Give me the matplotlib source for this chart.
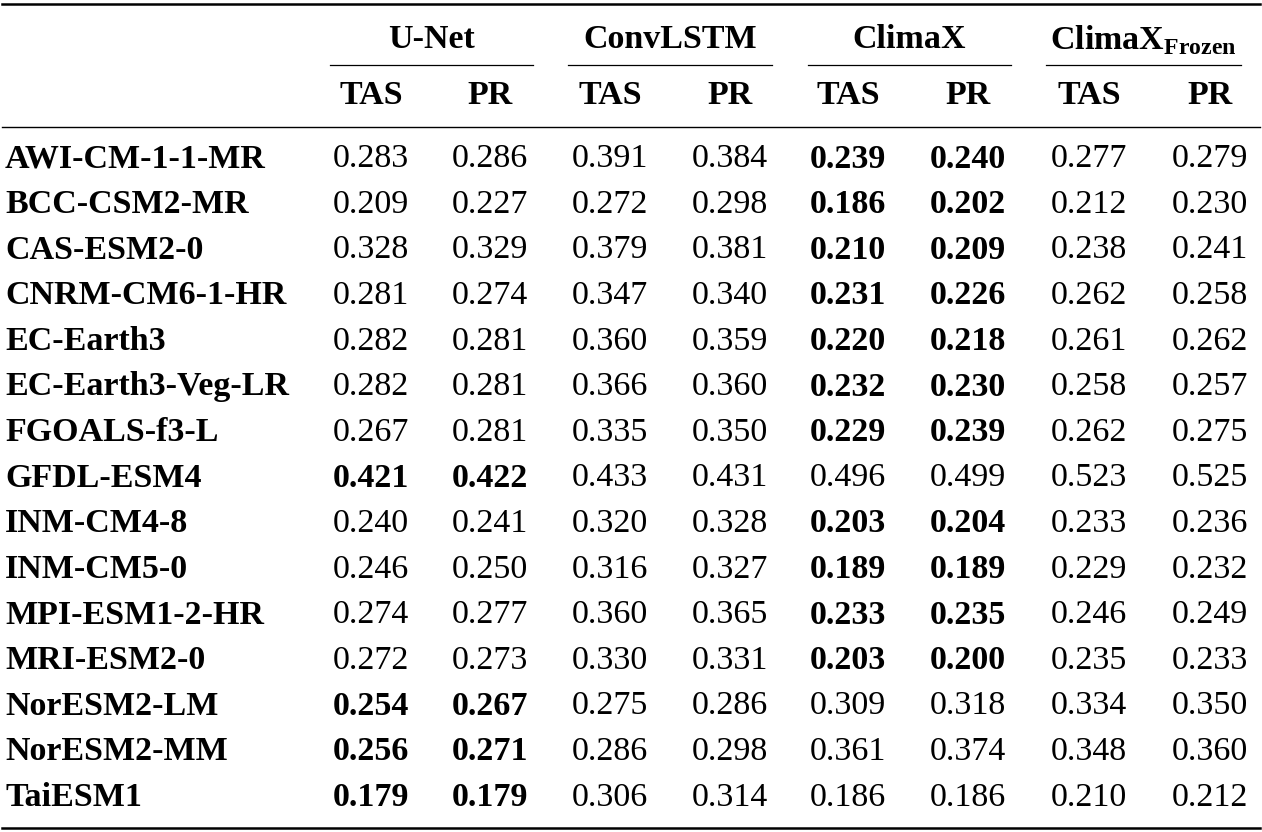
import matplotlib
matplotlib.use("Agg")
import matplotlib.pyplot as plt

models = ["AWI-CM-1-1-MR","BCC-CSM2-MR","CAS-ESM2-0","CNRM-CM6-1-HR","EC-Earth3",
          "EC-Earth3-Veg-LR","FGOALS-f3-L","GFDL-ESM4","INM-CM4-8","INM-CM5-0",
          "MPI-ESM1-2-HR","MRI-ESM2-0","NorESM2-LM","NorESM2-MM","TaiESM1"]
unet_tas = [0.283,0.209,0.328,0.281,0.282,0.282,0.267,0.421,0.240,0.246,0.274,0.272,0.254,0.256,0.179]
unet_pr  = [0.286,0.227,0.329,0.274,0.281,0.281,0.281,0.422,0.241,0.250,0.277,0.273,0.267,0.271,0.179]
conv_tas = [0.391,0.272,0.379,0.347,0.360,0.366,0.335,0.433,0.320,0.316,0.360,0.330,0.275,0.286,0.306]
conv_pr  = [0.384,0.298,0.381,0.340,0.359,0.360,0.350,0.431,0.328,0.327,0.365,0.331,0.286,0.298,0.314]
clim_tas = [0.239,0.186,0.210,0.231,0.220,0.232,0.229,0.496,0.203,0.189,0.233,0.203,0.309,0.361,0.186]
clim_pr  = [0.240,0.202,0.209,0.226,0.218,0.230,0.239,0.499,0.204,0.189,0.235,0.200,0.318,0.374,0.186]
froz_tas = [0.277,0.212,0.238,0.262,0.261,0.258,0.262,0.523,0.233,0.229,0.246,0.235,0.334,0.348,0.210]
froz_pr  = [0.279,0.230,0.241,0.258,0.262,0.257,0.275,0.525,0.236,0.232,0.249,0.233,0.350,0.360,0.212]
groups = ["U-Net","ConvLSTM","ClimaX","ClimaX$_{\\mathregular{Frozen}}$"]
subs = ["TAS","PR"]

W, H = 1262, 832
fig = plt.figure(figsize=(W/100, H/100), dpi=100)
ax = fig.add_axes([0,0,1,1]); ax.set_xlim(0,W); ax.set_ylim(H,0); ax.axis("off")

serif = "Liberation Serif"; fs = 24.5
cols = [unet_tas,unet_pr,conv_tas,conv_pr,clim_tas,clim_pr,froz_tas,froz_pr]
xc = [371,490,610,730,848,968,1089,1210]
spans = [(330,533),(568,772),(808,1011),(1046,1241)]

ax.plot([2,1260],[4,4],color="black",lw=1.8)
ax.plot([2,1260],[127,127],color="black",lw=1.0)
ax.plot([2,1260],[828,828],color="black",lw=1.8)
for (a,b),g in zip(spans,groups):
    ax.text((a+b)/2,40,g,fontsize=fs,fontweight="bold",family=serif,ha="center",va="center")
    ax.plot([a,b],[65,65],color="black",lw=0.9)
for i,x in enumerate(xc):
    ax.text(x,96,subs[i%2],fontsize=fs,fontweight="bold",family=serif,ha="center",va="center")

for r,m in enumerate(models):
    y = 159 + r*45.6
    ax.text(5,y,m,fontsize=fs,fontweight="bold",family=serif,ha="left",va="center")
    best = min(cols[k][r] for k in range(0,8,2))
    for g in range(4):
        bold = (cols[2*g][r] == best)
        for k in (2*g, 2*g+1):
            ax.text(xc[k],y,f"{cols[k][r]:.3f}",fontsize=fs,family=serif,
                    fontweight="bold" if bold else "normal",ha="center",va="center")

fig.savefig("out.png",dpi=100)
